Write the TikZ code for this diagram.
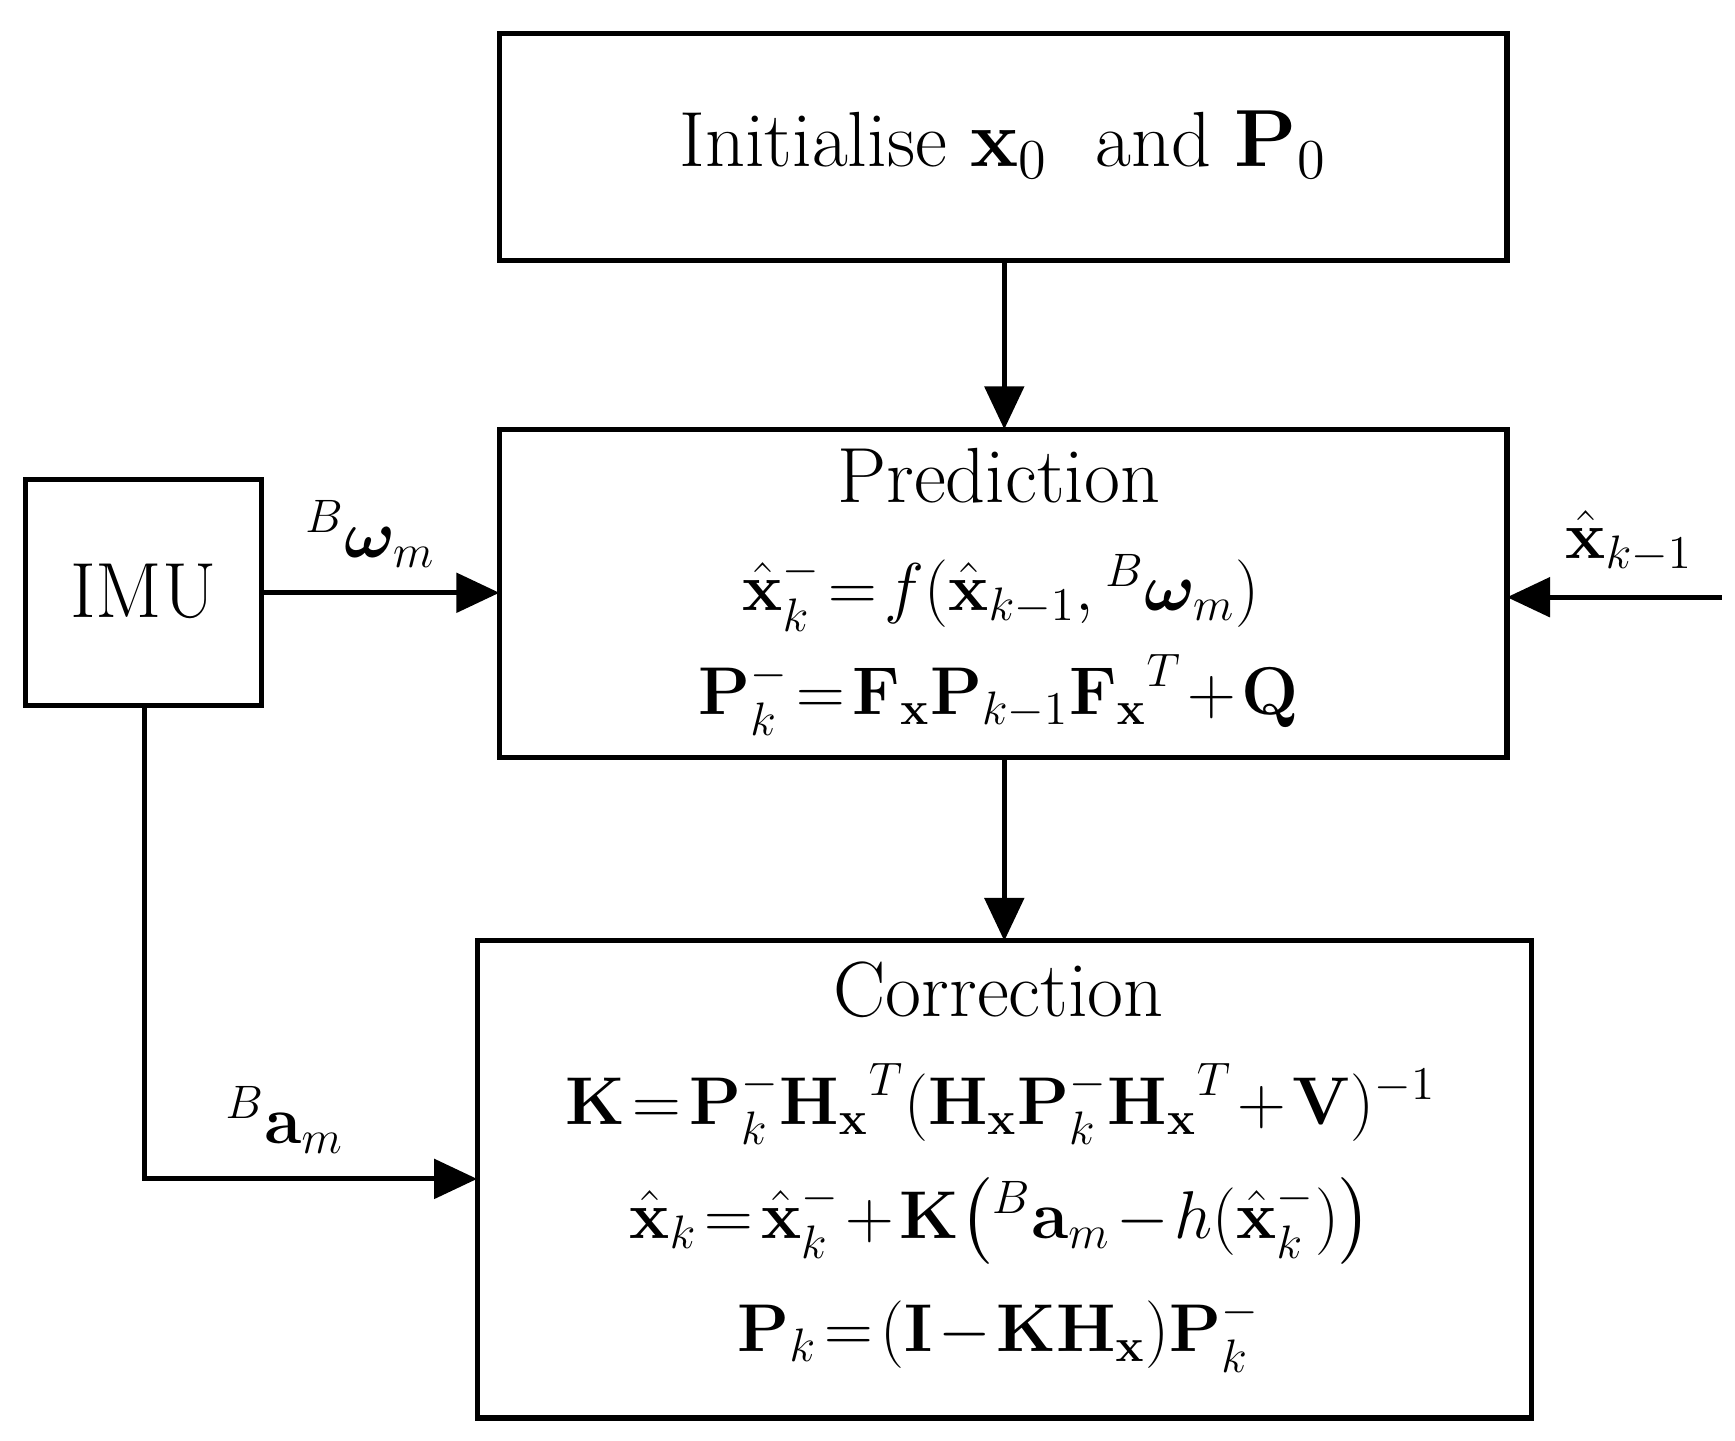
\documentclass[tikz,border=0pt]{standalone}
\usepackage{amsmath,amssymb,bm}
\usetikzlibrary{arrows.meta}
\newcommand\mytight{\thickmuskip=2mu\relax\medmuskip=1.5mu\relax}
\begin{document}
\begin{tikzpicture}[x=0.01cm,y=-0.01cm,
  arr/.style={line width=1.3pt,-{Triangle[length=11pt,width=10pt]}},
  txt/.style={font=\fontsize{20}{31}\selectfont,align=center},
  eq/.style={font=\fontsize{18.5}{24}\selectfont}]
\useasboundingbox (0,0) rectangle (1560,1295);
\draw[line width=1.3pt] (449,30) rectangle (1355,234);
\coordinate (initS) at (903,234);
\node[txt] (initT) at (902,130) {Initialise $\mathbf{x}_0$ \ and $\mathbf{P}_0$};
\draw[line width=1.3pt] (449,386) rectangle (1355,681);
\coordinate (predN) at (903,386);\coordinate (predS) at (903,681);
\coordinate (predW) at (449,533);\coordinate (predE) at (1355,537);
\node[txt] (predT) at (898,428) {Prediction};
\node[eq] (p1) at (900,533) {\mytight$\hat{\mathbf{x}}_k^- = f(\hat{\mathbf{x}}_{k-1},{}^B\bm{\omega}_m)$};
\node[eq] (p2) at (898,625) {\mytight$\mathbf{P}_k^- = \mathbf{F}_{\mathbf{x}}\mathbf{P}_{k-1}{\mathbf{F}_{\mathbf{x}}}^T + \mathbf{Q}$};
\draw[line width=1.3pt] (23,431) rectangle (235,634);
\node[txt] (imu) at (129,532) {IMU};
\coordinate (imuE) at (235,533);\coordinate (imuS) at (130,634);
\draw[line width=1.3pt] (429,846) rectangle (1377,1275);
\coordinate (corN) at (903,846);\coordinate (corW) at (429,1060);
\node[txt] (corT) at (898,890) {Correction};
\node[eq] (c1) at (900,993) {\mytight$\mathbf{K} = \mathbf{P}_k^-{\mathbf{H}_{\mathbf{x}}}^T(\mathbf{H}_{\mathbf{x}}\mathbf{P}_k^-{\mathbf{H}_{\mathbf{x}}}^T+\mathbf{V})^{-1}$};
\node[eq] (c2) at (900,1098) {\mytight$\hat{\mathbf{x}}_k = \hat{\mathbf{x}}_k^- + \mathbf{K}\big({}^B\mathbf{a}_m - h(\hat{\mathbf{x}}_k^-)\big)$};
\node[eq] (c3) at (898,1200) {\mytight$\mathbf{P}_k = (\mathbf{I}-\mathbf{K}\mathbf{H}_{\mathbf{x}})\mathbf{P}_k^-$};
\coordinate (rin) at (1548,537);
\coordinate (bend) at (130,1060);
\draw[arr] (initS) -- (predN);
\draw[arr] (predS) -- (corN);
\draw[arr] (imuE) -- (predW);
\draw[arr] (rin) -- (predE);
\draw[arr] (imuS) -- (bend) -- (corW);
\node[eq] (lw) at (333,480) {${}^B\bm{\omega}_m$};
\node[eq] (la) at (256,1007) {${}^B\mathbf{a}_m$};
\node[eq] (lx) at (1465,487) {$\hat{\mathbf{x}}_{k-1}$};
\end{tikzpicture}
\end{document}
